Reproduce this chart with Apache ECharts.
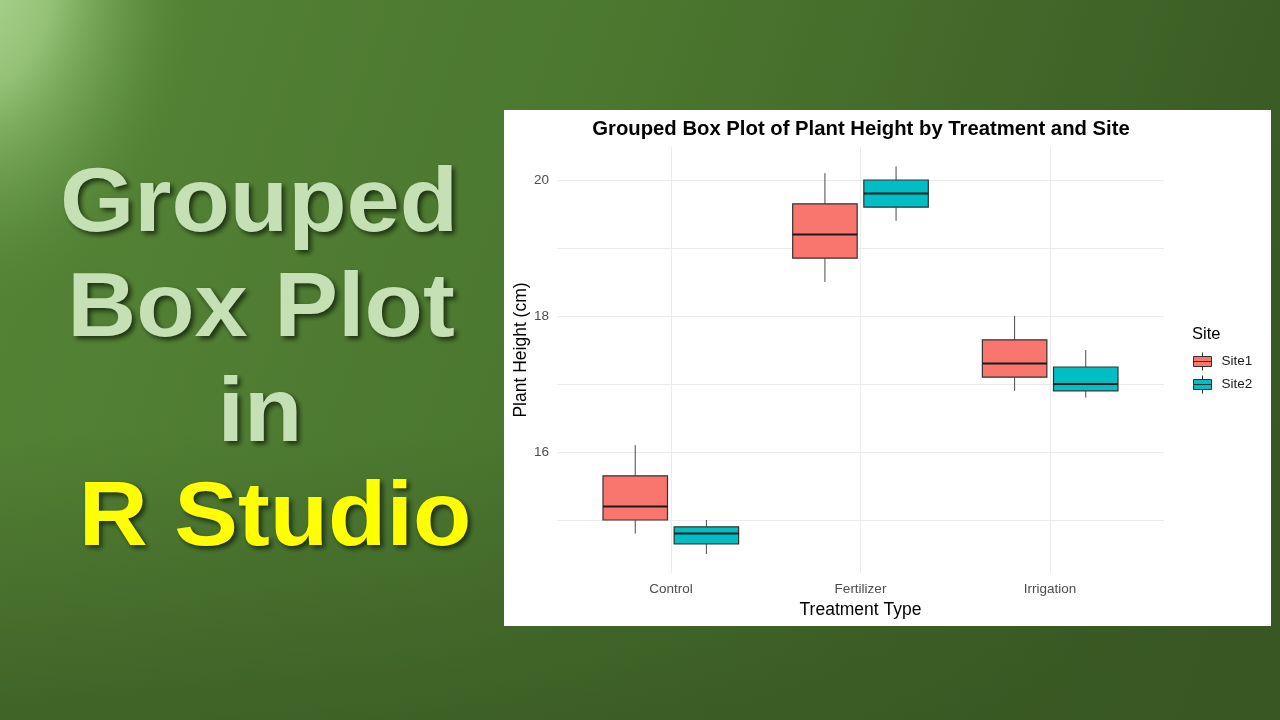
<!DOCTYPE html>
<html>
<head>
<meta charset="utf-8">
<script src="https://cdn.jsdelivr.net/npm/echarts@6/dist/echarts.min.js"></script>
<style>
  html, body { margin: 0; padding: 0; width: 1280px; height: 720px; overflow: hidden; }
  #chart { width: 1280px; height: 720px; }
</style>
</head>
<body>
<div id="chart"></div>
<script>
// ---- data ----
const categories = ['Control', 'Fertilizer', 'Irrigation'];
const siteNames = ['Site1', 'Site2'];
// [lower whisker, Q1, median, Q3, upper whisker]
const site1 = [
  [14.8, 15.0, 15.2, 15.65, 16.1],
  [18.5, 18.85, 19.2, 19.65, 20.1],
  [16.9, 17.1, 17.3, 17.65, 18.0]
];
const site2 = [
  [14.5, 14.65, 14.8, 14.9, 15.0],
  [19.4, 19.6, 19.8, 20.0, 20.2],
  [16.8, 16.9, 17.0, 17.25, 17.5]
];
const yTickLabels = [16, 18, 20];
const headline = ['Grouped', 'Box Plot', 'in', 'R Studio'];

const colors = ['#F8766D', '#00BFC4'];
const FONT = '"Liberation Sans", Arial, sans-serif';

const chart = echarts.init(document.getElementById('chart'), null, { renderer: 'canvas' });

function makeRender(offset, widthFrac, fill) {
  return function (params, api) {
    const x = api.value(0);
    const lo = api.value(1), q1 = api.value(2), med = api.value(3), q3 = api.value(4), hi = api.value(5);
    const unit = api.size([1, 0])[0];
    const cx = api.coord([x + offset, med])[0];
    const half = unit * widthFrac / 2;
    const yLo = api.coord([x, lo])[1];
    const yQ1 = api.coord([x, q1])[1];
    const yMed = api.coord([x, med])[1];
    const yQ3 = api.coord([x, q3])[1];
    const yHi = api.coord([x, hi])[1];
    const stroke = '#333333';
    return {
      type: 'group',
      children: [
        { type: 'line', shape: { x1: cx, y1: yHi, x2: cx, y2: yQ3 }, style: { stroke: '#4a4a4a', lineWidth: 1 } },
        { type: 'line', shape: { x1: cx, y1: yQ1, x2: cx, y2: yLo }, style: { stroke: '#4a4a4a', lineWidth: 1 } },
        { type: 'rect', shape: { x: cx - half, y: yQ3, width: half * 2, height: yQ1 - yQ3 },
          style: { fill: fill, stroke: stroke, lineWidth: 1.2 } },
        { type: 'line', shape: { x1: cx - half, y1: yMed, x2: cx + half, y2: yMed },
          style: { stroke: '#1a1a1a', lineWidth: 2 } }
      ]
    };
  };
}

function toData(arr) {
  return arr.map(function (d, i) { return [i].concat(d); });
}

function bigText(text, x, y, color) {
  return {
    type: 'text', x: x, y: y, scaleX: 1.05, scaleY: 1, z: 1, silent: true,
    style: {
      text: text,
      fontFamily: FONT, fontWeight: 'bold', fontSize: 91,
      fill: color,
      align: 'center', verticalAlign: 'middle',
      textShadowColor: 'rgba(15,30,8,0.8)', textShadowBlur: 5,
      textShadowOffsetX: 3, textShadowOffsetY: 3
    }
  };
}

const legendIcon = 'path://M0,4H18V14H0ZM0,9H18M9,0V4M9,14V18';

const option = {
  animation: false,
  graphic: [
    { type: 'rect', z: -10, silent: true, shape: { x: 0, y: 0, width: 1280, height: 720 },
      style: { fill: { type: 'linear', x: 0, y: 0, x2: 1, y2: 0.6, colorStops: [
        { offset: 0, color: '#558436' },
        { offset: 0.45, color: '#4b772f' },
        { offset: 1, color: '#385723' }
      ] } } },
    { type: 'rect', z: -10, silent: true, shape: { x: 0, y: 0, width: 1280, height: 720 },
      style: { fill: { type: 'linear', x: 0, y: 0, x2: 0, y2: 1, colorStops: [
        { offset: 0, color: 'rgba(56,87,35,0)' },
        { offset: 0.6, color: 'rgba(56,87,35,0)' },
        { offset: 1, color: 'rgba(56,87,35,0.7)' }
      ] } } },
    { type: 'rect', z: -9, silent: true, x: -30, y: -30, scaleX: 1, scaleY: 1.45,
      shape: { x: -280, y: -280, width: 560, height: 560 },
      style: { fill: { type: 'radial', x: 0.5, y: 0.5, r: 0.5, colorStops: [
        { offset: 0, color: 'rgba(175,216,150,1)' },
        { offset: 0.3, color: 'rgba(155,200,125,0.9)' },
        { offset: 0.62, color: 'rgba(110,160,80,0.45)' },
        { offset: 0.85, color: 'rgba(85,132,54,0)' },
        { offset: 1, color: 'rgba(85,132,54,0)' }
      ] } } },
    { type: 'rect', z: -8, silent: true, shape: { x: 504, y: 110, width: 767, height: 516 },
      style: { fill: '#ffffff' } },
    bigText(headline[0], 259, 206, '#c5e0b4'),
    bigText(headline[1], 261, 311, '#c5e0b4'),
    bigText(headline[2], 260, 416, '#c5e0b4'),
    bigText(headline[3], 275, 520, '#ffff00')
  ],
  title: [
    {
      text: 'Grouped Box Plot of Plant Height by Treatment and Site',
      left: 861, top: 129, padding: 0, textAlign: 'center', textVerticalAlign: 'middle',
      textStyle: { fontFamily: FONT, fontWeight: 'bold', fontSize: 20.3, color: '#000000' }
    },
    {
      text: 'Site',
      left: 1192, top: 334, padding: 0, textAlign: 'left', textVerticalAlign: 'middle',
      textStyle: { fontFamily: FONT, fontWeight: 'normal', fontSize: 16.5, color: '#000000' }
    }
  ],
  legend: {
    orient: 'vertical',
    left: 1193, top: 352,
    padding: 0,
    itemWidth: 18, itemHeight: 18, itemGap: 4,
    selectedMode: false,
    textStyle: { fontFamily: FONT, fontSize: 13.5, color: '#1a1a1a', padding: [0, 0, 0, 5] },
    data: siteNames.map(function (n, i) {
      return { name: n, icon: legendIcon,
        itemStyle: { color: colors[i], borderColor: '#333333', borderWidth: 1 } };
    })
  },
  grid: [
    // main plotting grid (value axes, ggplot-like expansion)
    { left: 557, top: 180, width: 607, height: 340, containLabel: false },
    // grid for category labels and vertical grid lines
    { left: 671, top: 147, width: 379, height: 426, containLabel: false }
  ],
  xAxis: [
    { type: 'value', gridIndex: 0, min: -0.6, max: 2.6, show: false },
    {
      type: 'category', gridIndex: 1, data: categories, boundaryGap: false,
      name: 'Treatment Type', nameLocation: 'middle', nameGap: 27,
      nameTextStyle: { fontFamily: FONT, fontSize: 17.5, color: '#000000' },
      axisLine: { show: false }, axisTick: { show: false },
      axisLabel: { fontFamily: FONT, fontSize: 13.5, color: '#4d4d4d', margin: 9, interval: 0 },
      splitLine: { show: true, interval: 0, lineStyle: { color: '#ebebeb', width: 1 } }
    }
  ],
  yAxis: [
    {
      type: 'value', gridIndex: 0, min: 15, max: 20, interval: 1,
      name: 'Plant Height (cm)', nameLocation: 'middle', nameGap: 27, nameRotate: 90,
      nameTextStyle: { fontFamily: FONT, fontSize: 17.5, color: '#000000' },
      axisLine: { show: false }, axisTick: { show: false },
      axisLabel: {
        fontFamily: FONT, fontSize: 13.5, color: '#4d4d4d', margin: 8,
        formatter: function (v) { return yTickLabels.indexOf(v) >= 0 ? String(v) : ''; }
      },
      splitLine: { show: true, lineStyle: { color: '#ebebeb', width: 1 } }
    },
    { type: 'value', gridIndex: 1, show: false, min: 0, max: 1 }
  ],
  series: [
    {
      name: siteNames[0], type: 'custom', xAxisIndex: 0, yAxisIndex: 0,
      itemStyle: { color: colors[0] },
      renderItem: makeRender(-0.1875, 0.34, colors[0]),
      encode: { x: 0, y: [1, 2, 3, 4, 5] },
      data: toData(site1), clip: false, z: 5
    },
    {
      name: siteNames[1], type: 'custom', xAxisIndex: 0, yAxisIndex: 0,
      itemStyle: { color: colors[1] },
      renderItem: makeRender(0.1875, 0.34, colors[1]),
      encode: { x: 0, y: [1, 2, 3, 4, 5] },
      data: toData(site2), clip: false, z: 5
    }
  ]
};

chart.setOption(option);
</script>
</body>
</html>
